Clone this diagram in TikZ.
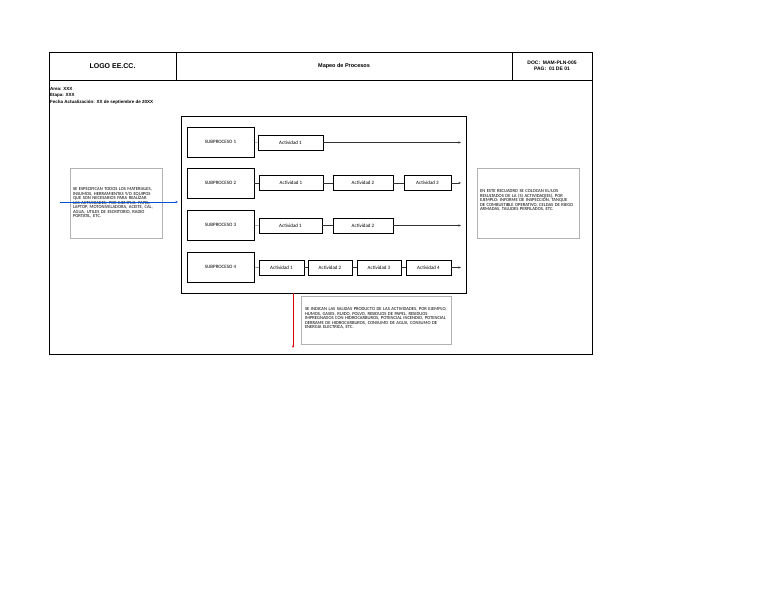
\documentclass[tikz,border=0pt]{standalone}
\usepackage{fontspec}
\setmainfont{Liberation Sans}
\newfontfamily\notefont{Carlito}
\usepackage{tikz}
\usetikzlibrary{arrows.meta}
\colorlet{noteFrame}{black!30}
\colorlet{inputArrow}{blue!60!cyan!80!black}
\colorlet{outputArrow}{red!85!black}
\hyphenpenalty=10000
\exhyphenpenalty=10000

\begin{document}
\begin{tikzpicture}[
  x=1pt,y=-1pt,
  subproceso/.style={
    draw=black,
    thick,
    minimum width=67pt,
    minimum height=30pt,
    inner sep=0pt,
    font=\notefont\fontsize{5}{5.5}\selectfont,
  },
  actividad/.style={
    draw=black,
    thick,
    minimum height=15pt,
    inner sep=0pt,
    font=\notefont\fontsize{5}{5.5}\selectfont,
  },
  nota/.style={
    draw=noteFrame,
    inner sep=0pt,
  },
  notatexto/.style={
    inner sep=0pt,
    align=left,
    font=\notefont\fontsize{4.6}{4.5}\selectfont,
  },
  flujo/.style={
    draw=black!80,
    line width=0.4pt,
  },
  salida/.style={
    flujo,
    -{Stealth[length=2.5pt,width=2pt]},
  },
]
\useasboundingbox (0,0) rectangle (768,594);
% encabezado
\draw[line width=0.8pt] (49,52) rectangle (592,354);
\draw[line width=0.8pt] (49,80) -- (592,80);
\draw[line width=0.8pt] (176,52) -- (176,80);
\draw[line width=0.8pt] (512,52) -- (512,80);
\node[font=\bfseries\fontsize{7}{8}\selectfont] (logo) at (112.5,66) {LOGO EE.CC.};
\node[font=\bfseries\fontsize{5.5}{6}\selectfont] (titulo) at (344,66) {Mapeo de Procesos};
\node[font=\bfseries\fontsize{5}{5.6}\selectfont,align=center] (doc) at (552,66)
  {DOC:\ \ MAM-PLN-005\\PAG:\ \ 01 DE 01};
\node[font=\bfseries\fontsize{4.5}{6.5}\selectfont,align=left,anchor=north west,inner sep=0pt]
  (datos) at (50,87) {Area: XXX\\Etapa: XXX\\Fecha Actualización: XX de septiembre de 20XX};

% marco de subprocesos
\node[draw=black,line width=0.8pt,minimum width=285pt,minimum height=177pt,inner sep=0pt]
  (marco) at (323.5,204.5) {};

% fila 1
\node[subproceso] (sub1) at (220.5,142) {SUBPROCESO 1};
\node[actividad,minimum width=65pt] (a11) at (290.5,142.5) {Actividad 1};
\coordinate (f1) at (461,142.5);
\draw[flujo] (sub1) -- (a11);
\draw[salida] (a11) -- (f1);

% fila 2
\node[subproceso] (sub2) at (220.5,183) {SUBPROCESO 2};
\node[actividad,minimum width=64pt] (a21) at (291,183) {Actividad 1};
\node[actividad,minimum width=60pt] (a22) at (363,183) {Actividad 2};
\node[actividad,minimum width=47pt] (a23) at (427.5,183) {Actividad 3};
\coordinate (f2) at (461,183);
\draw[flujo] (sub2) -- (a21);
\draw[flujo] (a21) -- (a22);
\draw[flujo] (a22) -- (a23);
\draw[salida] (a23) -- (f2);

% fila 3
\node[subproceso] (sub3) at (220.5,225) {SUBPROCESO 3};
\node[actividad,minimum width=63pt] (a31) at (290.5,225.5) {Actividad 1};
\node[actividad,minimum width=60pt] (a32) at (363,225.5) {Actividad 2};
\coordinate (f3) at (461,225.5);
\draw[flujo] (sub3) -- (a31);
\draw[flujo] (a31) -- (a32);
\draw[salida] (a32) -- (f3);

% fila 4
\node[subproceso] (sub4) at (220.5,267) {SUBPROCESO 4};
\node[actividad,minimum width=45pt] (a41) at (281.5,267.5) {Actividad 1};
\node[actividad,minimum width=44pt] (a42) at (330,267.5) {Actividad 2};
\node[actividad,minimum width=44pt] (a43) at (379,267.5) {Actividad 3};
\node[actividad,minimum width=45pt] (a44) at (428.5,267.5) {Actividad 4};
\coordinate (f4) at (461,267.5);
\draw[flujo] (sub4) -- (a41);
\draw[flujo] (a41) -- (a42);
\draw[flujo] (a42) -- (a43);
\draw[flujo] (a43) -- (a44);
\draw[salida] (a44) -- (f4);

% entradas, resultados y salidas
\node[nota,minimum width=92pt,minimum height=70pt] (entradas) at (116,203) {};
\node[notatexto,text width=82pt] (txtEntradas) at (114,203)
  {SE ESPECIFICAN TODOS LOS MATERIALES, INSUMOS, HERRAMIENTAS Y/O EQUIPOS QUE SON NECESARIOS PARA REALIZAR LAS ACTIVIDADES, POR EJEMPLO: PAPEL, LAPTOP, MOTONIVELADORA, ACEITE, CAL, AGUA, UTILES DE ESCRITORIO, RADIO PORTATIL, ETC.};
\node[nota,minimum width=102pt,minimum height=70pt] (resultados) at (528,203) {};
\node[notatexto,text width=96pt] (txtResultados) at (528,200.5)
  {EN ESTE RECUADRO SE COLOCAN EL/LOS RESULTADOS DE LA (S) ACTIVIDAD(ES), POR EJEMPLO: INFORME DE INSPECCIÓN, TANQUE DE COMBUSTIBLE OPERATIVO, CELDAS DE RIEGO ARMADAS, TALUDES PERFILADOS, ETC.};
\node[nota,minimum width=150pt,minimum height=48pt] (salidas) at (376,320) {};
\node[notatexto,text width=145pt] (txtSalidas) at (377.5,318.5)
  {SE INDICAN LAS SALIDAS PRODUCTO DE LAS ACTIVIDADES, POR EJEMPLO, HUMOS, GASES, RUIDO, POLVO, RESIDUOS DE PAPEL, RESIDUOS IMPREGNADOS CON HIDROCARBUROS, POTENCIAL INCENDIO, POTENCIAL DERRAME DE HIDROCARBUROS, CONSUMO DE AGUA, CONSUMO DE ENERGIA ELECTRICA, ETC.};

\coordinate (entra) at (60,202);
\coordinate (llega) at (178,202);
\draw[inputArrow,line width=0.8pt,-{Stealth[length=2.5pt,width=2pt]}] (entra) -- (llega);
\coordinate (sale) at (293,348);
\draw[outputArrow,line width=0.7pt,-{Stealth[length=2.5pt,width=2pt]}] (marco.south -| sale) -- (sale);
\end{tikzpicture}
\end{document}
